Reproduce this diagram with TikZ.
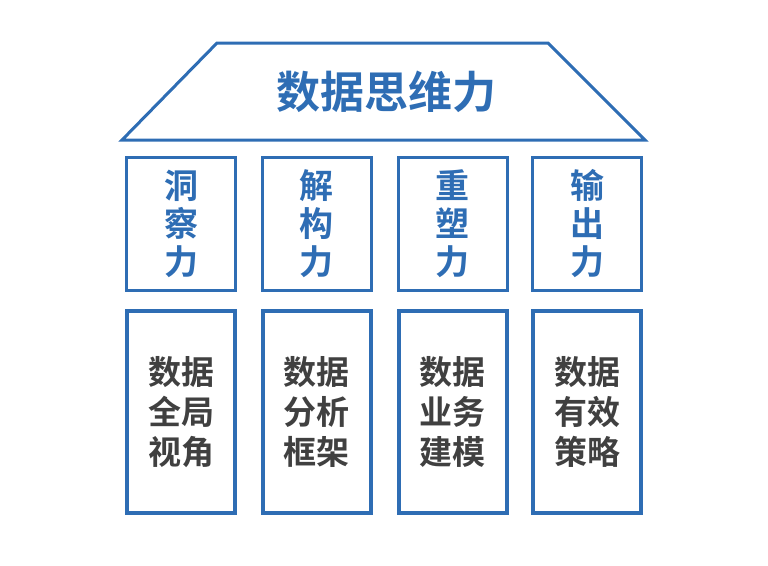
\documentclass[tikz,border=0pt]{standalone}
\usepackage{fontspec}
\setmainfont{Noto Sans CJK SC}[BoldFont={Noto Sans CJK SC Bold}]
\usepackage{tikz}
\definecolor{houseblue}{HTML}{2E6DB4}
\definecolor{pillargray}{HTML}{404040}

\begin{document}
\begin{tikzpicture}[x=1pt,y=-1pt,
			roof/.style={draw=houseblue,line width=3pt,line join=miter},
			pillar/.style={draw=houseblue,line width=3pt,minimum width=109pt,minimum height=133pt,
				align=center,text=houseblue,font=\fontsize{34}{38}\selectfont\bfseries},
			base/.style={draw=houseblue,line width=4pt,minimum width=108pt,minimum height=202pt,
				align=center,text=pillargray,font=\fontsize{33}{40}\selectfont\bfseries}]
		\useasboundingbox (0,0) rectangle (768,565);
		% roof
		\coordinate (roofTL) at (217,43);
		\coordinate (roofTR) at (548,43);
		\coordinate (roofBR) at (645,140);
		\coordinate (roofBL) at (122,140);
		\draw[roof] (roofTL) -- (roofTR) -- (roofBR) -- (roofBL) -- cycle;
		\node[text=houseblue,font=\fontsize{44}{48}\selectfont\bfseries] (title) at (386,92) {数据思维力};
		% pillars
		\foreach \x/\up/\down [count=\i] in {181/洞\\察\\力/数据\\全局\\视角,
				316.5/解\\构\\力/数据\\分析\\框架,
				452.5/重\\塑\\力/数据\\业务\\建模,
				587/输\\出\\力/数据\\有效\\策略}{
			\node[pillar] (pillar\i) at (\x,224) {\up};
			\node[base] (base\i) at (\x,412) {\down};
		}
\end{tikzpicture}
\end{document}
